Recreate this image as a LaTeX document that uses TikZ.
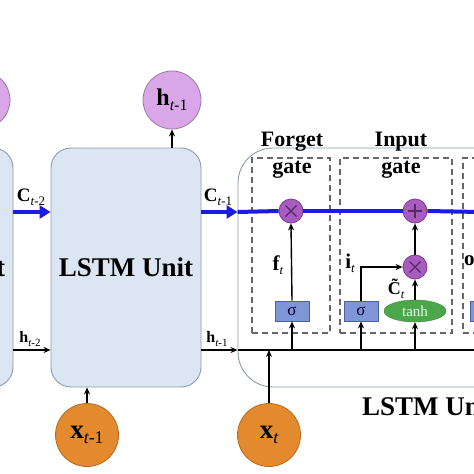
\documentclass[tikz,border=0pt]{standalone}
\usepackage{fontspec}
\setmainfont{Liberation Serif}
\usetikzlibrary{arrows.meta,shapes.geometric}
\definecolor{unitblue}{HTML}{DCE6F2}
\definecolor{unitborder}{HTML}{8C9BAA}
\definecolor{lav}{HTML}{D9A6E8}
\definecolor{lavborder}{HTML}{9A7AA8}
\definecolor{orng}{HTML}{E38A2E}
\definecolor{orngborder}{HTML}{B86A1E}
\definecolor{oppurple}{HTML}{A85CC0}
\definecolor{opborder}{HTML}{7A3A90}
\definecolor{sigblue}{HTML}{7F95D6}
\definecolor{sigborder}{HTML}{4A5FA8}
\definecolor{tanhgreen}{HTML}{4CA64A}
\definecolor{cellblue}{HTML}{1C1CE0}
\newcommand\lbl[4]{{\fontsize{#1}{#1}\selectfont\bfseries #3}{\fontsize{#2}{#2}\selectfont\raisebox{-0.3em}{#4}}}
\tikzset{
  unit/.style={draw=unitborder, fill=unitblue, line width=0.9pt, rounded corners=20pt,
    minimum width=150pt, minimum height=239pt, inner sep=0pt,
    font=\fontsize{27}{27}\selectfont\bfseries},
  bigunit/.style={draw=unitborder, fill=white, line width=0.9pt, rounded corners=35pt,
    minimum width=300pt, minimum height=239pt, inner sep=0pt},
  hcirc/.style={circle, draw=lavborder, fill=lav, line width=0.8pt, minimum size=58pt, inner sep=0pt},
  xcirc/.style={circle, draw=orngborder, fill=orng, line width=0.8pt, minimum size=63pt, inner sep=0pt},
  gatebox/.style={draw=gray!80!black, dashed, dash pattern=on 6pt off 4pt, line width=1.1pt,
    minimum height=175pt, inner sep=0pt},
  gtitle/.style={font=\fontsize{22}{22}\selectfont\bfseries, inner sep=0pt, anchor=base},
  opcirc/.style={circle, draw=opborder, fill=oppurple, line width=0.8pt, minimum size=24pt, inner sep=0pt},
  opline/.style={draw=opborder!70!black, line width=1.2pt},
  sigbox/.style={draw=sigborder, fill=sigblue, line width=0.8pt, minimum width=34pt, minimum height=20pt,
    inner sep=0pt, font=\fontsize{17}{17}\selectfont, text=black!80!blue},
  tanhnode/.style={ellipse, fill=tanhgreen, draw=tanhgreen!80!black, minimum width=62pt, minimum height=22pt,
    inner sep=0pt, font=\fontsize{15}{15}\selectfont, text=green!10},
  cellarrow/.style={draw=cellblue, line width=4pt, -{Triangle[length=11pt,width=13pt]}},
  cellline/.style={draw=cellblue, line width=4pt},
  harrow/.style={draw=black, line width=1.4pt, -{Stealth[length=7pt,width=6pt]}},
  hline/.style={draw=black, line width=1.4pt},
  lab/.style={inner sep=0pt}
}
\begin{document}
\begin{tikzpicture}[x=1pt,y=-1pt]
\useasboundingbox (0,0) rectangle (474,474);
\clip (0,0) rectangle (474,474);
\coordinate (cy) at (0,212);
\coordinate (hy) at (0,350);
\coordinate (cend) at (480,212);
\coordinate (hend) at (480,350);
% units
\node[unit] (u1) at (-62,267.5) {LSTM Unit};
\node[unit] (u2) at (126,267.5) {LSTM Unit};
\node[bigunit] (u3) at (388,267.5) {};
\node[font=\fontsize{27}{27}\selectfont\bfseries, anchor=base west, inner sep=0pt] (u3t) at (362,415) {LSTM Unit};
% gate boxes
\node[gatebox, minimum width=78pt] (fg) at (291,245.5) {};
\node[gatebox, minimum width=112pt] (ig) at (396,245.5) {};
\node[gatebox, minimum width=100pt] (og) at (513,245.5) {};
\node[gtitle] (ft1) at (292,146) {Forget};
\node[gtitle] (ft2) at (292,173) {gate};
\node[gtitle] (it1) at (401,146) {Input};
\node[gtitle] (it2) at (401,173) {gate};
% circles
\node[hcirc] (h0) at (-19,100) {};
\node[hcirc] (h1) at (172,100) {\lbl{24}{16}{h}{\itshape t\upshape -1}};
\node[xcirc] (x1) at (87,435) {\lbl{27}{18}{x}{\itshape t\upshape -1}};
\node[xcirc] (x2) at (269,435) {\lbl{27}{18}{x}{\itshape t}};
% operations
\node[opcirc] (fx) at (291,211) {};
\node[opcirc] (ip) at (415,211) {};
\node[opcirc] (im) at (415,267) {};
\draw[opline] ([shift={(-5.5,-5.5)}]fx.center) -- ([shift={(5.5,5.5)}]fx.center);
\draw[opline] ([shift={(-5.5,5.5)}]fx.center) -- ([shift={(5.5,-5.5)}]fx.center);
\draw[opline] ([shift={(-5.5,-5.5)}]im.center) -- ([shift={(5.5,5.5)}]im.center);
\draw[opline] ([shift={(-5.5,5.5)}]im.center) -- ([shift={(5.5,-5.5)}]im.center);
\draw[opline] ([shift={(-7,0)}]ip.center) -- ([shift={(7,0)}]ip.center);
\draw[opline] ([shift={(0,-7)}]ip.center) -- ([shift={(0,7)}]ip.center);
\node[sigbox] (fs) at (292,311) {σ};
\node[sigbox] (is) at (361,311) {σ};
\node[tanhnode] (th) at (415,311) {tanh};
\node[sigbox] (os) at (487,311) {σ};
% cell state
\draw[cellarrow] (u1.east |- cy) -- (u2.west |- cy);
\draw[cellarrow] (u2.east |- cy) -- (u3.west |- cy);
\draw[cellline] (u3.west |- cy) -- (fx.west);
\draw[cellline] (fx.east) -- (ip.west);
\draw[cellline] (ip.east) -- (cend);
% hidden state
\draw[harrow] (u1.east |- hy) -- (u2.west |- hy);
\draw[harrow] (u2.east |- hy) -- (u3.west |- hy);
\draw[hline] (u3.west |- hy) -- (hend);
\draw[harrow] (x2.north) -- (x2.north |- hy);
\draw[harrow] (x1.north) -- (u2.south -| x1);
\draw[harrow] (u2.north -| h1) -- (h1.south);
\draw[harrow] (fs.south |- hy) -- (fs.south);
\draw[harrow] (is.south |- hy) -- (is.south);
\draw[harrow] (th.south |- hy) -- (th.south);
\draw[harrow] (os.south |- hy) -- (os.south);
% gate internals
\draw[harrow] (fs.north) -- (fx.south);
\draw[harrow] (is.north) -- (is.north |- im) -- (im.west);
\draw[harrow] (th.north) -- (im.south);
\draw[harrow] (im.north) -- (ip.south);
% labels
\node[lab] (lc2) at (31,197) {\lbl{19}{13}{C}{\itshape t\upshape -2}};
\node[lab] (lc1) at (218,197) {\lbl{19}{13}{C}{\itshape t\upshape -1}};
\node[lab] (lh2) at (30,339) {\lbl{16}{11}{h}{\itshape t\upshape -2}};
\node[lab] (lh1) at (217,339) {\lbl{16}{11}{h}{\itshape t\upshape -1}};
\node[lab] (lf) at (278,265) {\lbl{21}{13}{f}{\itshape t}};
\node[lab] (li) at (350,263) {\lbl{21}{13}{i}{\itshape t}};
\node[lab] (lct) at (396,289) {\lbl{18}{12}{\~C}{\itshape t}};
\node[lab, anchor=west] (lo) at (464,263) {\lbl{21}{13}{o}{\itshape t}};
\end{tikzpicture}
\end{document}
